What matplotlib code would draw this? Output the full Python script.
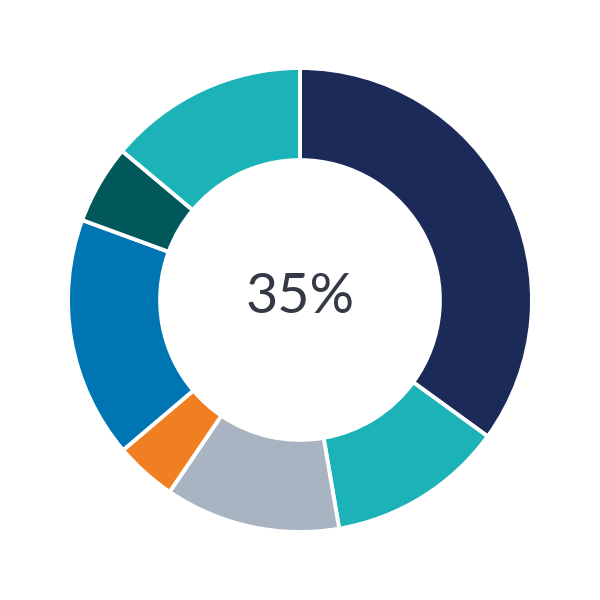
import matplotlib.pyplot as plt

shares = [35, 12.3, 12.2, 4.3, 16.8, 5.5, 13.9]
colors = ['#1c2a5a', '#1bb3b7', '#a9b4c2', '#f07f22', '#0075b4', '#00585a', '#1bb3b7']
center_label = '35%'

fig = plt.figure(figsize=(6, 6), dpi=100)
ax = fig.add_axes([0, 0, 1, 1])

ax.pie(shares, colors=colors, startangle=90, counterclock=False, radius=1,
       wedgeprops=dict(width=0.397, edgecolor='white', linewidth=2.8))
ax.text(0, 0.01, center_label, ha='center', va='center', fontsize=40,
        family='Lato', color='#333a45')

lim = 300 / 232
ax.set_xlim(-lim, lim)
ax.set_ylim(-lim, lim)
ax.set_aspect('equal')
ax.axis('off')

fig.savefig('out.png', dpi=100)
